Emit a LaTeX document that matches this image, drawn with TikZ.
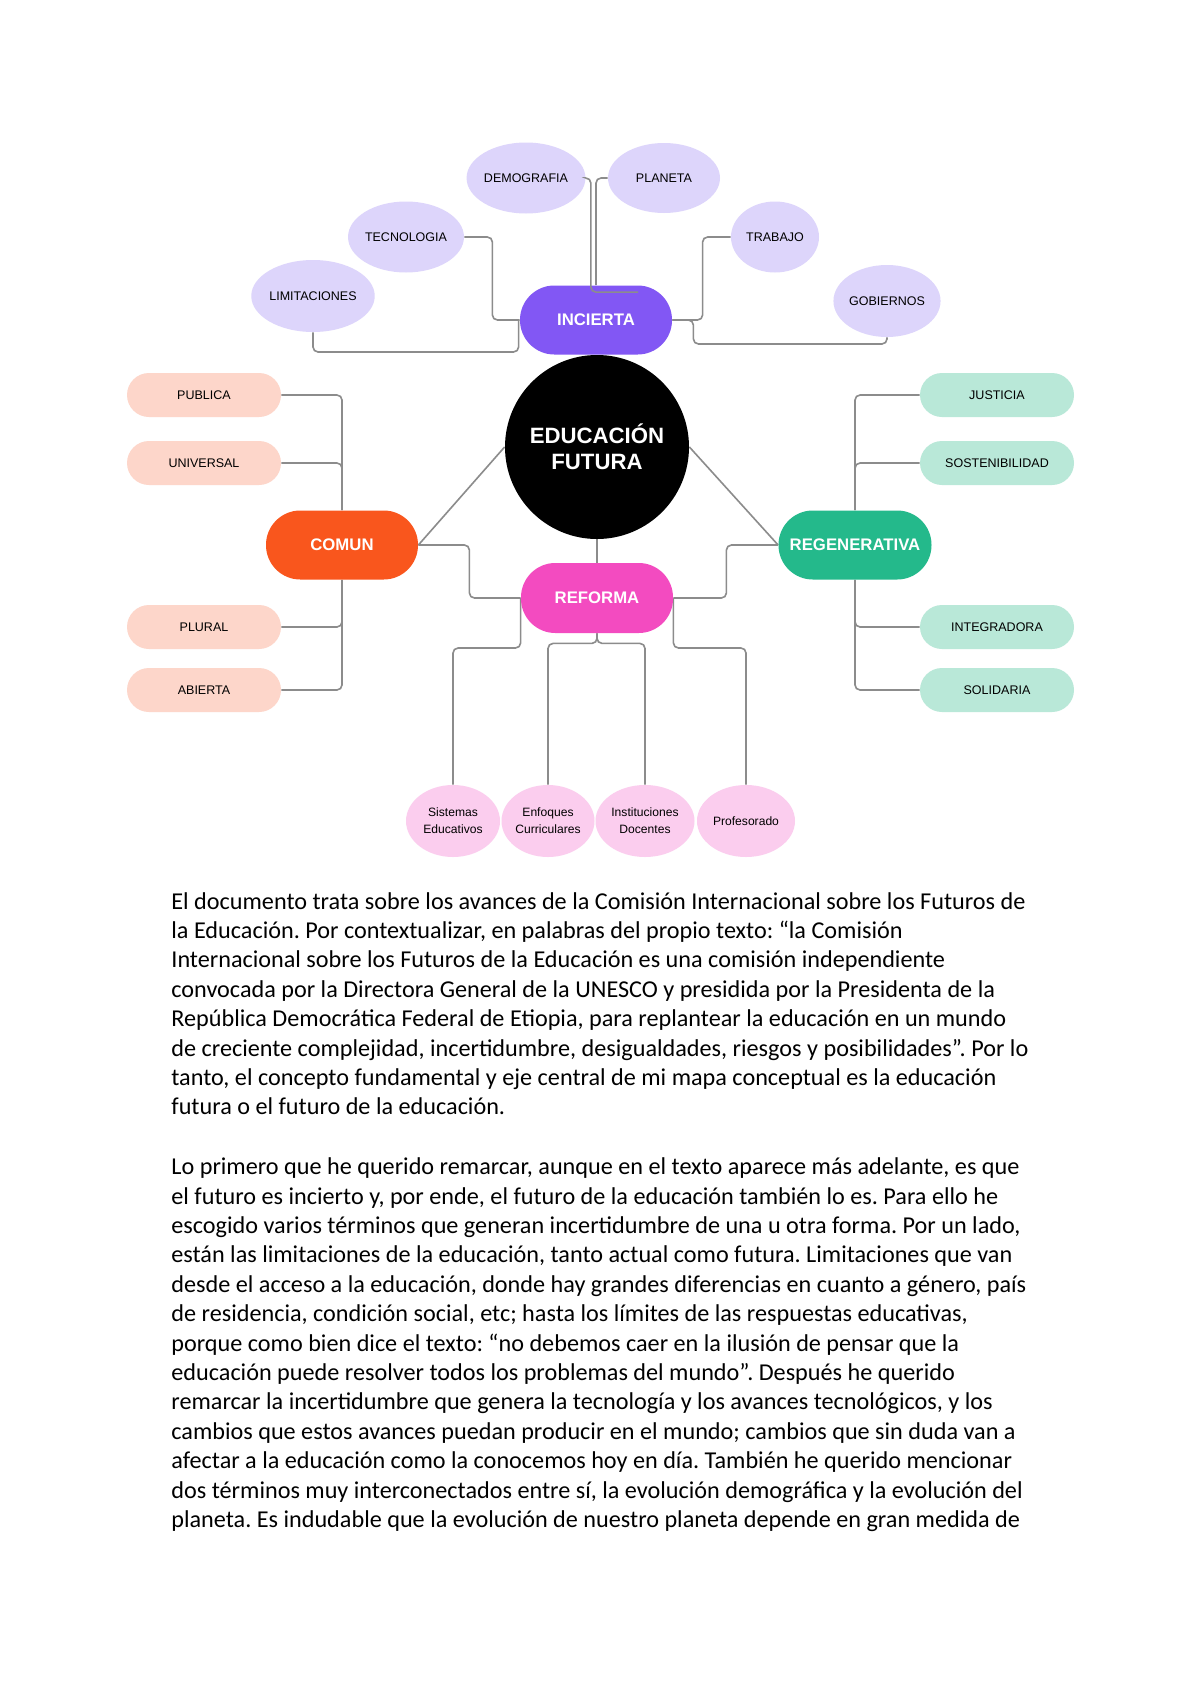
\documentclass[tikz,border=0pt]{standalone}
\usepackage{fontspec}
\setmainfont{Carlito}
\newfontfamily\dfont{Liberation Sans}
\usetikzlibrary{shapes.geometric,calc}
\pgfdeclarelayer{background}
\pgfsetlayers{background,main}
\frenchspacing
\definecolor{cInc}{HTML}{8257F4}
\definecolor{cIncL}{HTML}{DDD5FB}
\definecolor{cCom}{HTML}{F9561D}
\definecolor{cComL}{HTML}{FDD6CA}
\definecolor{cReg}{HTML}{24B98B}
\definecolor{cRegL}{HTML}{B9E8D8}
\definecolor{cRef}{HTML}{F34BC0}
\definecolor{cRefL}{HTML}{FBCDEE}
\definecolor{cLine}{HTML}{8C8C8C}
\tikzset{
  sz/.style 2 args={minimum width=#1*0.4958pt, minimum height=#2*0.4958pt},
  oval/.style={ellipse, inner sep=0pt, fill=cIncL, text=black, align=center, font=\dfont\fontsize{6.2}{7.5}\selectfont},
  lowoval/.style={ellipse, inner sep=0pt, fill=cRefL, text=black, align=center, font=\dfont\fontsize{6}{8.3}\selectfont},
  mainpill/.style={rectangle, inner sep=0pt, rounded corners=17pt, text=white, font=\dfont\bfseries\fontsize{8.3}{10}\selectfont, sz={152}{69}},
  leafpill/.style={rectangle, inner sep=0pt, rounded corners=10.9pt, text=black, font=\dfont\fontsize{6.2}{7.5}\selectfont, sz={154}{44}},
  conn/.style={draw=cLine, line width=0.8pt, rounded corners=2.5pt},
  para/.style={anchor=base west, inner sep=0pt, font=\fontsize{12}{14.6}\selectfont}
}
\begin{document}
\begin{tikzpicture}[x=0.4958pt,y=-0.4958pt]
\useasboundingbox (0,0) rectangle (1200,1698);

% central circle
\node[circle, fill=black, text=white, inner sep=0pt, minimum size=184*0.4958pt, align=center,
      font=\dfont\bfseries\fontsize{11}{13}\selectfont] (circ) at (597,447) {EDUCACIÓN\\FUTURA};

% main branches
\node[mainpill, fill=cInc] (inc) at (596,320) {INCIERTA};
\node[mainpill, fill=cCom] (com) at (342,545) {COMUN};
\node[mainpill, fill=cReg, sz={153}{69}] (reg) at (855,545) {REGENERATIVA};
\node[mainpill, fill=cRef, sz={152}{70}] (ref) at (597,598) {REFORMA};

% INCIERTA children
\node[oval, sz={114}{71}] (dem) at (526,178) {DEMOGRAFIA};
\node[oval, sz={112}{70}] (pla) at (664,178) {PLANETA};
\node[oval, sz={112}{71}] (tec) at (406,237) {TECNOLOGIA};
\node[oval, sz={120}{72}] (lim) at (313,296) {LIMITACIONES};
\node[oval, sz={88}{71}] (tra) at (775,237) {TRABAJO};
\node[oval, sz={98}{72}] (gob) at (887,301) {GOBIERNOS};

% COMUN children
\node[leafpill, fill=cComL] (pub) at (204,395) {PUBLICA};
\node[leafpill, fill=cComL] (uni) at (204,463) {UNIVERSAL};
\node[leafpill, fill=cComL] (plu) at (204,627) {PLURAL};
\node[leafpill, fill=cComL] (abi) at (204,690) {ABIERTA};

% REGENERATIVA children
\node[leafpill, fill=cRegL] (jus) at (997,395) {JUSTICIA};
\node[leafpill, fill=cRegL] (sos) at (997,463) {SOSTENIBILIDAD};
\node[leafpill, fill=cRegL] (int) at (997,627) {INTEGRADORA};
\node[leafpill, fill=cRegL] (sol) at (997,690) {SOLIDARIA};

% REFORMA children
\node[lowoval, sz={94}{72}] (sis) at (453,821) {Sistemas\\Educativos};
\node[lowoval, sz={93}{72}] (enf) at (548,821) {Enfoques\\Curriculares};
\node[lowoval, sz={99}{72}] (ins) at (645,821) {Instituciones\\Docentes};
\node[lowoval, sz={98}{72}] (pro) at (746,821) {Profesorado};

\begin{pgfonlayer}{background}
\fill[white] (0,0) rectangle (1200,1698);
% INCIERTA
\draw[conn] (tec.east) -- ++(28,0) |- (inc.west);
\draw[conn] (lim.south) |- ($(inc.west)+(-1,32)$) -- ($(inc.west)+(-1,0)$);
\draw[conn] (pla.west) -| (inc.north);
\draw[conn] (tra.west) -- ++(-28,0) |- (inc.east);
\draw[conn] (gob.south) |- ($(inc.east)+(21,24)$) |- (inc.east);
% circle links
\draw[conn] (com.east) -- (circ.west);
\draw[conn] (reg.west) -- (circ.east);
\draw[conn] (circ.south) -- (ref.north);
% COMUN
\draw[conn] (pub.east) -| (com.north);
\draw[conn] (uni.east) -| (com.north);
\draw[conn] (plu.east) -| (com.south);
\draw[conn] (abi.east) -| (com.south);
% REGENERATIVA
\draw[conn] (jus.west) -| (reg.north);
\draw[conn] (sos.west) -| (reg.north);
\draw[conn] (int.west) -| (reg.south);
\draw[conn] (sol.west) -| (reg.south);
% REFORMA
\draw[conn] (com.east) -- ++(51,0) |- (ref.west);
\draw[conn] (ref.east) -- ++(53,0) |- (reg.west);
\draw[conn] (ref.west) -- ++(0,50) -| (sis.north);
\draw[conn] (ref.south) -- ++(0,10) -| (enf.north);
\draw[conn] (ref.south) -- ++(0,10) -| (ins.north);
\draw[conn] (ref.east) -- ++(0,50) -| (pro.north);
\end{pgfonlayer}
% line drawn over INCIERTA
\draw[conn] (dem.east) -- ++(5,0) |- ($(inc.north)+(42,7)$);

% paragraph 1
\node[para] (a1) at (171,909) {El documento trata sobre los avances de la Comisión Internacional sobre los Futuros de};
\node[para] (a2) at (171,938.4) {la Educación. Por contextualizar, en palabras del propio texto: “la Comisión};
\node[para] (a3) at (171,967.8) {Internacional sobre los Futuros de la Educación es una comisión independiente};
\node[para] (a4) at (171,997.2) {convocada por la Directora General de la UNESCO y presidida por la Presidenta de la};
\node[para] (a5) at (171,1026.6) {República Democrática Federal de Etiopia, para replantear la educación en un mundo};
\node[para] (a6) at (171,1056) {de creciente complejidad, incertidumbre, desigualdades, riesgos y posibilidades”. Por lo};
\node[para] (a7) at (171,1085.4) {tanto, el concepto fundamental y eje central de mi mapa conceptual es la educación};
\node[para] (a8) at (171,1114.8) {futura o el futuro de la educación.};

% paragraph 2
\node[para] (b1) at (171,1174.6) {Lo primero que he querido remarcar, aunque en el texto aparece más adelante, es que};
\node[para] (b2) at (171,1204) {el futuro es incierto y, por ende, el futuro de la educación también lo es. Para ello he};
\node[para] (b3) at (171,1233.4) {escogido varios términos que generan incertidumbre de una u otra forma. Por un lado,};
\node[para] (b4) at (171,1262.8) {están las limitaciones de la educación, tanto actual como futura. Limitaciones que van};
\node[para] (b5) at (171,1292.2) {desde el acceso a la educación, donde hay grandes diferencias en cuanto a género, país};
\node[para] (b6) at (171,1321.6) {de residencia, condición social, etc; hasta los límites de las respuestas educativas,};
\node[para] (b7) at (171,1351) {porque como bien dice el texto: “no debemos caer en la ilusión de pensar que la};
\node[para] (b8) at (171,1380.4) {educación puede resolver todos los problemas del mundo”. Después he querido};
\node[para] (b9) at (171,1409.8) {remarcar la incertidumbre que genera la tecnología y los avances tecnológicos, y los};
\node[para] (b10) at (171,1439.2) {cambios que estos avances puedan producir en el mundo; cambios que sin duda van a};
\node[para] (b11) at (171,1468.6) {afectar a la educación como la conocemos hoy en día. También he querido mencionar};
\node[para] (b12) at (171,1498) {dos términos muy interconectados entre sí, la evolución demográfica y la evolución del};
\node[para] (b13) at (171,1527.4) {planeta. Es indudable que la evolución de nuestro planeta depende en gran medida de};
\end{tikzpicture}
\end{document}
